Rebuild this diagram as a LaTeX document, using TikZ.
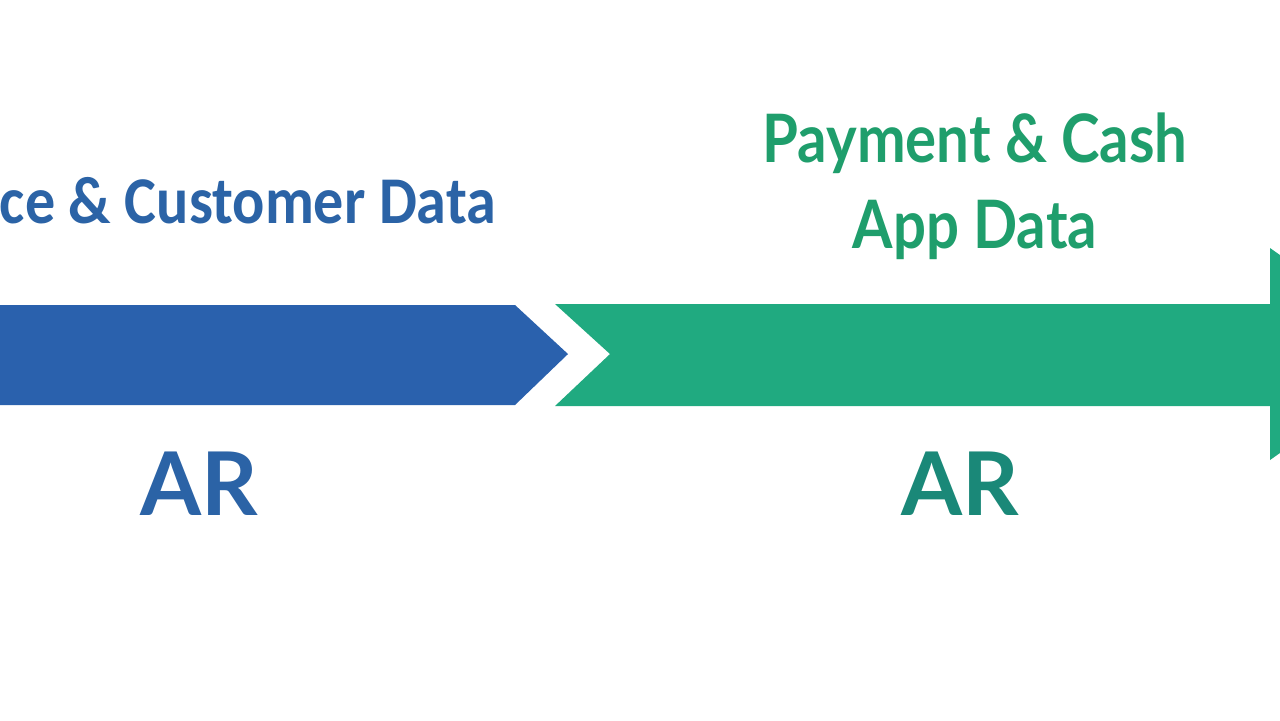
\documentclass[tikz,border=0pt]{standalone}
\usepackage{fontspec}
\setmainfont{Lato}
\newfontfamily\calib{Carlito}
\usepackage{tikz}

\definecolor{bandblue}{HTML}{2A61AD}
\definecolor{bandgreen}{HTML}{20AA80}
\definecolor{textblue}{HTML}{2B63A6}
\definecolor{textgreen}{HTML}{1F9E6C}
\definecolor{argreen}{HTML}{1A8878}

\newcommand{\narrow}[2]{\scalebox{#1}[1]{#2}}

\begin{document}
\begin{tikzpicture}[x=0.01cm, y=-0.01cm,
    label/.style={inner sep=0pt, outer sep=0pt},
    artext/.style={label, font=\bfseries\fontsize{25}{30}\selectfont, anchor=base}]
    \useasboundingbox[fill=white] (0,0) rectangle (1280,720);

    % Draw the two arrow bands
    \fill[bandblue] (-10,305) -- (515,305) -- (568,354) -- (515,405) -- (-10,405) -- cycle;
    \fill[bandgreen] (555,304) -- (1270,304) -- (1270,248) -- (1420,354) -- (1270,460)
        -- (1270,406) -- (555,406) -- (610,354) -- cycle;

    % Labels above the bands
    \node[label, anchor=base west, text=textblue, font=\calib\bfseries\fontsize{19}{23}\selectfont]
        (custdata) at (0,223) {\narrow{0.9}{ce \& Customer Data}};
    \node[label, anchor=base, text=textgreen, align=center, font=\bfseries\fontsize{19}{24.2}\selectfont]
        (paydata) at (975,248) {\narrow{0.87}{Payment \& Cash}\\\narrow{0.87}{App Data}};

    % Labels below the bands
    \node[artext, text=textblue] (arleft) at (199,515) {AR};
    \node[artext, text=argreen] (arright) at (960,515) {AR};
\end{tikzpicture}
\end{document}
